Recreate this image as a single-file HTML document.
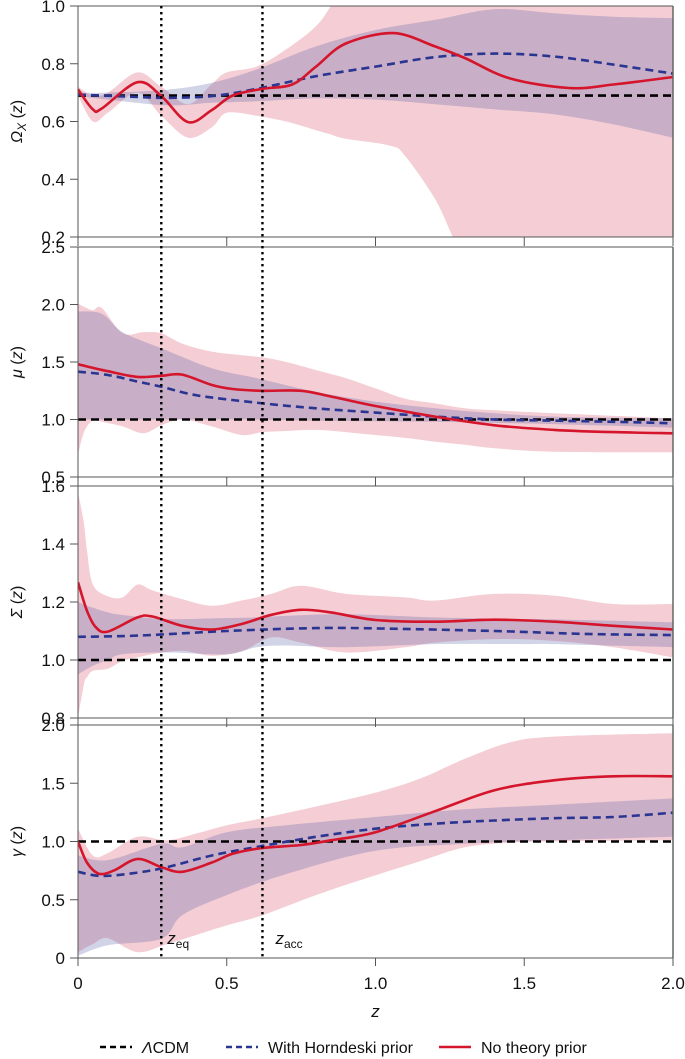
<!DOCTYPE html>
<html><head><meta charset="utf-8">
<style>
body{margin:0;background:#fff;}
svg{display:block;font-family:"Liberation Sans",sans-serif;}
</style></head>
<body>
<svg id="chart" width="685" height="1059" viewBox="0 0 685 1059" xmlns="http://www.w3.org/2000/svg"></svg>
<script>
// ---------- data ----------
const zTicks = [0, 0.5, 1.0, 1.5, 2.0];
const xTickLabels = ["0", "0.5", "1.0", "1.5", "2.0"];
const zEq = 0.28;
const zAcc = 0.62;

// Panel 1: Omega_X
const om_lcdm = 0.69;
const om_red_z = [0,0.05,0.08,0.2,0.28,0.37,0.45,0.52,0.62,0.72,0.8,0.9,1.06,1.2,1.3,1.45,1.65,1.8,2.0];
const om_red_v = [0.711,0.642,0.645,0.736,0.688,0.598,0.64,0.69,0.713,0.728,0.79,0.87,0.906,0.86,0.82,0.75,0.716,0.728,0.754];
const om_blue_z = [0,0.2,0.3,0.45,0.6,0.8,1.0,1.2,1.4,1.6,1.8,2.0];
const om_blue_v = [0.693,0.685,0.682,0.688,0.713,0.757,0.79,0.823,0.835,0.825,0.797,0.766];
const om_bband_z = [0,0.1,0.3,0.45,0.6,0.8,1.0,1.2,1.4,1.6,1.8,2.0];
const om_bband_hi = [0.70,0.70,0.71,0.734,0.78,0.86,0.917,0.952,0.989,0.975,0.963,0.958];
const om_bband_lo = [0.688,0.676,0.656,0.665,0.67,0.68,0.676,0.66,0.642,0.625,0.59,0.544];
const om_rband_z = [0,0.05,0.1,0.2,0.28,0.37,0.45,0.5,0.6,0.7,0.8,0.85,0.9,1.05,1.1,1.2,1.26,1.3,1.6,2.0];
const om_rband_hi = [0.72,0.69,0.70,0.77,0.72,0.66,0.73,0.77,0.79,0.85,0.93,1.0,1.08,1.1,1.1,1.1,1.1,1.1,1.1,1.1];
const om_rband_lo = [0.69,0.60,0.63,0.70,0.62,0.544,0.58,0.63,0.62,0.6,0.57,0.555,0.54,0.516,0.48,0.332,0.2,0.12,0.05,0.0];

// Panel 2: mu
const mu_lcdm = 1.0;
const mu_red_z = [0,0.1,0.2,0.28,0.35,0.45,0.52,0.62,0.75,0.85,1.0,1.2,1.4,1.6,1.8,2.0];
const mu_red_v = [1.48,1.42,1.37,1.38,1.39,1.30,1.265,1.25,1.25,1.2,1.117,1.025,0.95,0.91,0.89,0.88];
const mu_blue_z = [0,0.1,0.2,0.28,0.4,0.6,0.8,1.0,1.2,1.4,1.6,1.8,2.0];
const mu_blue_v = [1.416,1.387,1.33,1.285,1.21,1.146,1.097,1.06,1.025,1.0,0.99,0.98,0.967];
const mu_bband_z = [0,0.08,0.15,0.28,0.45,0.6,0.8,1.0,1.2,1.4,1.6,1.8,2.0];
const mu_bband_hi = [1.94,1.92,1.76,1.62,1.445,1.36,1.24,1.155,1.097,1.054,1.025,1.016,1.01];
const mu_bband_lo = [1.0,1.0,1.0,1.0,1.0,1.0,0.99,0.985,0.98,0.97,0.96,0.945,0.93];
const mu_rband_z = [0,0.02,0.05,0.08,0.15,0.22,0.28,0.35,0.45,0.55,0.62,0.7,0.8,0.9,1.0,1.1,1.2,1.3,1.4,1.6,2.0];
const mu_rband_hi = [2.01,1.98,1.95,1.97,1.75,1.76,1.75,1.66,1.59,1.56,1.54,1.5,1.43,1.36,1.27,1.18,1.14,1.097,1.08,1.054,1.01];
const mu_rband_lo = [0.69,0.89,0.995,0.98,0.94,0.88,0.95,1.0,0.94,0.865,0.89,0.9,0.91,0.89,0.865,0.84,0.807,0.78,0.75,0.72,0.715];

// Panel 3: Sigma
const si_lcdm = 1.0;
const si_red_z = [0,0.03,0.06,0.1,0.2,0.25,0.35,0.45,0.55,0.65,0.75,0.85,1.0,1.2,1.4,1.6,1.8,2.0];
const si_red_v = [1.268,1.17,1.113,1.098,1.147,1.15,1.118,1.105,1.124,1.156,1.173,1.164,1.138,1.132,1.139,1.132,1.118,1.105];
const si_blue_z = [0,0.2,0.5,0.8,1.0,1.4,1.7,2.0];
const si_blue_v = [1.08,1.084,1.1,1.11,1.109,1.1,1.09,1.086];
const si_bband_z = [0,0.05,0.1,0.15,0.3,0.5,0.6,0.7,0.9,1.2,1.5,1.6,2.0];
const si_bband_hi = [1.2,1.18,1.164,1.155,1.141,1.145,1.147,1.152,1.158,1.147,1.141,1.14,1.13];
const si_bband_lo = [0.95,0.98,1.0,1.02,1.026,1.02,1.044,1.05,1.044,1.055,1.055,1.055,1.044];
const si_rband_z = [0,0.02,0.03,0.05,0.1,0.15,0.2,0.25,0.35,0.45,0.55,0.65,0.75,0.9,1.1,1.2,1.4,1.6,1.8,2.0];
const si_rband_hi = [1.58,1.47,1.38,1.26,1.22,1.216,1.26,1.24,1.21,1.187,1.205,1.228,1.256,1.228,1.216,1.205,1.228,1.222,1.193,1.193];
const si_rband_lo = [0.8,0.917,0.94,0.963,0.97,0.997,1.009,1.02,1.032,1.015,1.03,1.078,1.06,1.026,1.044,1.06,1.072,1.066,1.044,1.009];

// Panel 4: gamma
const ga_lcdm = 1.0;
const ga_red_z = [0,0.03,0.07,0.12,0.2,0.28,0.35,0.45,0.52,0.62,0.75,0.85,1.0,1.2,1.4,1.6,1.8,2.0];
const ga_red_v = [1.0,0.82,0.724,0.75,0.85,0.78,0.74,0.82,0.895,0.944,0.97,1.01,1.08,1.26,1.44,1.525,1.56,1.56];
const ga_blue_z = [0,0.08,0.2,0.3,0.45,0.6,0.8,1.0,1.2,1.4,1.6,1.8,2.0];
const ga_blue_v = [0.74,0.704,0.733,0.78,0.88,0.953,1.04,1.11,1.153,1.18,1.2,1.21,1.247];
const ga_bband_z = [0,0.1,0.28,0.35,0.5,0.7,1.0,1.3,1.6,2.0];
const ga_bband_hi = [0.88,0.84,0.98,0.95,1.08,1.14,1.21,1.276,1.316,1.37];
const ga_bband_lo = [0.02,0.11,0.166,0.367,0.54,0.72,0.92,0.98,1.01,1.04];
const ga_rband_z = [0,0.05,0.1,0.2,0.3,0.4,0.5,0.62,0.8,1.0,1.15,1.3,1.45,1.6,2.0];
const ga_rband_hi = [1.11,0.88,0.9,1.04,1.01,1.07,1.14,1.2,1.3,1.42,1.54,1.71,1.85,1.9,1.93];
const ga_rband_lo = [0.05,0.12,0.17,0.05,0.12,0.2,0.28,0.367,0.54,0.71,0.83,0.95,0.99,1.0,1.01];

// ---------- layout ----------
const X0 = 78, X1 = 673;
const xs = z => X0 + (z / 2.0) * (X1 - X0);
const panels = [
  {name:"omega-x", top:6, bot:237, ymin:0.2, ymax:1.0, ticks:[0.2,0.4,0.6,0.8,1.0], labels:["0.2","0.4","0.6","0.8","1.0"], sym:"Ω",
   lcdm:om_lcdm, rz:om_red_z, rv:om_red_v, bz:om_blue_z, bv:om_blue_v, bbz:om_bband_z, bbh:om_bband_hi, bbl:om_bband_lo, rbz:om_rband_z, rbh:om_rband_hi, rbl:om_rband_lo},
  {name:"mu", top:247, bot:477, ymin:0.5, ymax:2.5, ticks:[0.5,1.0,1.5,2.0,2.5], labels:["0.5","1.0","1.5","2.0","2.5"], sym:"μ",
   lcdm:mu_lcdm, rz:mu_red_z, rv:mu_red_v, bz:mu_blue_z, bv:mu_blue_v, bbz:mu_bband_z, bbh:mu_bband_hi, bbl:mu_bband_lo, rbz:mu_rband_z, rbh:mu_rband_hi, rbl:mu_rband_lo},
  {name:"sigma", top:486, bot:718, ymin:0.8, ymax:1.6, ticks:[0.8,1.0,1.2,1.4,1.6], labels:["0.8","1.0","1.2","1.4","1.6"], sym:"Σ",
   lcdm:si_lcdm, rz:si_red_z, rv:si_red_v, bz:si_blue_z, bv:si_blue_v, bbz:si_bband_z, bbh:si_bband_hi, bbl:si_bband_lo, rbz:si_rband_z, rbh:si_rband_hi, rbl:si_rband_lo},
  {name:"gamma", top:725, bot:958, ymin:0, ymax:2.0, ticks:[0,0.5,1.0,1.5,2.0], labels:["0","0.5","1.0","1.5","2.0"], sym:"γ",
   lcdm:ga_lcdm, rz:ga_red_z, rv:ga_red_v, bz:ga_blue_z, bv:ga_blue_v, bbz:ga_bband_z, bbh:ga_bband_hi, bbl:ga_bband_lo, rbz:ga_rband_z, rbh:ga_rband_hi, rbl:ga_rband_lo}
];

const svg = document.getElementById('chart');
const NS = "http://www.w3.org/2000/svg";
function mk(tag, attrs, parent){ const e=document.createElementNS(NS,tag); for(const k in attrs) e.setAttribute(k,attrs[k]); (parent||svg).appendChild(e); return e; }

function smooth(pts, move){
  let d = (move?"M":"L")+pts[0][0].toFixed(1)+","+pts[0][1].toFixed(1);
  for(let i=0;i<pts.length-1;i++){
    const p0=pts[Math.max(i-1,0)], p1=pts[i], p2=pts[i+1], p3=pts[Math.min(i+2,pts.length-1)];
    const c1=[p1[0]+(p2[0]-p0[0])/6, p1[1]+(p2[1]-p0[1])/6];
    const c2=[p2[0]-(p3[0]-p1[0])/6, p2[1]-(p3[1]-p1[1])/6];
    d+="C"+c1[0].toFixed(1)+","+c1[1].toFixed(1)+" "+c2[0].toFixed(1)+","+c2[1].toFixed(1)+" "+p2[0].toFixed(1)+","+p2[1].toFixed(1);
  }
  return d;
}
const defs = mk('defs',{});

panels.forEach((p,pi)=>{
  const ys = v => p.bot - (v - p.ymin)/(p.ymax - p.ymin)*(p.bot - p.top);
  const g = mk('g',{});
  
  
  const cp = mk('clipPath',{id:'clip'+pi}, defs);
  mk('rect',{x:X0,y:p.top,width:X1-X0,height:p.bot-p.top},cp);
  const pg = mk('g',{'clip-path':'url(#clip'+pi+')'}, g);

  function band(zArr, hi, lo, fill, nm){
    const up = zArr.map((z,i)=>[xs(z),ys(hi[i])]);
    const dn = zArr.map((z,i)=>[xs(z),ys(lo[i])]).reverse();
    const e = mk('path',{d:smooth(up,true)+smooth(dn,false)+"Z", fill:fill, stroke:'none'}, pg);
    
    
  }
  band(p.rbz, p.rbh, p.rbl, '#f4ced4', 'no-prior-band');
  band(p.bbz, p.bbh, p.bbl, 'rgba(70,80,160,0.25)', 'horndeski-band');

  const lc = mk('line',{x1:X0,x2:X1,y1:ys(p.lcdm),y2:ys(p.lcdm),stroke:'#000','stroke-width':2.6,'stroke-dasharray':'8,5'}, pg);
  
  

  const bl = mk('path',{d:smooth(p.bz.map((z,i)=>[xs(z),ys(p.bv[i])]),true),fill:'none',stroke:'#2a3591','stroke-width':2.6,'stroke-dasharray':'8,5'}, pg);
  
  

  const rl = mk('path',{d:smooth(p.rz.map((z,i)=>[xs(z),ys(p.rv[i])]),true),fill:'none',stroke:'#d4152b','stroke-width':2.6}, pg);
  
  

  mk('line',{x1:X0,x2:X1,y1:p.top,y2:p.top,stroke:'#555','stroke-width':1},g);
  mk('line',{x1:X0,x2:X1,y1:p.bot,y2:p.bot,stroke:'#555','stroke-width':1},g);
  mk('line',{x1:X0,x2:X0,y1:p.top,y2:p.bot,stroke:'#555','stroke-width':1},g);
  mk('line',{x1:X1,x2:X1,y1:p.top,y2:p.bot,stroke:'#666','stroke-width':1.5},g);
  p.ticks.forEach((t,i)=>{
    mk('line',{x1:X0-8,x2:X0,y1:ys(t),y2:ys(t),stroke:'#555','stroke-width':1},g);
    const tx = mk('text',{x:X0-13,y:ys(t)+6,'text-anchor':'end','font-size':17,fill:'#111'},g);
    tx.textContent = p.labels[i];
    
    
  });
  zTicks.forEach(z=>{ mk('line',{x1:xs(z),x2:xs(z),y1:p.bot,y2:p.bot+ (pi===3?8:9),stroke:'#555','stroke-width':1},g); });
  const cy = (p.top+p.bot)/2;
  const tt = mk('text',{x:0,y:0,'text-anchor':'middle','font-size':16,fill:'#111',transform:'translate(22,'+cy+') rotate(-90)'},g);
  if(pi===0){ tt.innerHTML = "<tspan font-style='italic'>Ω</tspan><tspan font-size='12' dy='4' font-style='italic'>X</tspan><tspan dy='-4'> (</tspan><tspan font-style='italic'>z</tspan>)"; }
  else { tt.innerHTML = "<tspan font-style='italic'>"+p.sym+"</tspan> (<tspan font-style='italic'>z</tspan>)"; }
  
  
});

[zEq, zAcc].forEach((z,i)=>{
  const l = mk('line',{x1:xs(z),x2:xs(z),y1:6,y2:958,stroke:'#000','stroke-width':2.4,'stroke-dasharray':'2.4,3.6'});
  
  
});
const zeq = mk('text',{x:xs(zEq)+6,y:944,'font-size':17,fill:'#111'});
zeq.innerHTML = "<tspan font-style='italic'>z</tspan><tspan font-size='12' dy='4'>eq</tspan>";


const zac = mk('text',{x:xs(zAcc)+13,y:944,'font-size':17,fill:'#111'});
zac.innerHTML = "<tspan font-style='italic'>z</tspan><tspan font-size='12' dy='4'>acc</tspan>";



zTicks.forEach((z,i)=>{
  const t = mk('text',{x:xs(z),y:989,'text-anchor':'middle','font-size':17,fill:'#111'});
  t.textContent = xTickLabels[i];
  
  
});
const xt = mk('text',{x:xs(1.0),y:1017,'text-anchor':'middle','font-size':17,'font-style':'italic',fill:'#111'});
xt.textContent = 'z';



const lg = mk('g',{});


const entries = [
  {x:100, stroke:'#000', dash:'6,4', label:"<tspan font-style='italic'>Λ</tspan>CDM", nm:'legend-entry-lcdm'},
  {x:226, stroke:'#2a3591', dash:'6,4', label:"With Horndeski prior", nm:'legend-entry-horndeski'},
  {x:439, stroke:'#d4152b', dash:'none', label:"No theory prior", nm:'legend-entry-no-prior'}
];
entries.forEach(e=>{
  const eg = mk('g',{},lg);
  
  
  mk('line',{x1:e.x,x2:e.x+32,y1:1047,y2:1047,stroke:e.stroke,'stroke-width':2.6,'stroke-dasharray':e.dash},eg);
  const t = mk('text',{x:e.x+42,y:1053,'font-size':16,fill:'#111'},eg);
  t.innerHTML = e.label;
});
</script>
</body></html>
